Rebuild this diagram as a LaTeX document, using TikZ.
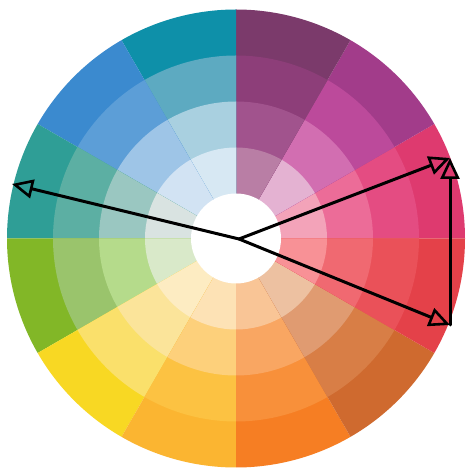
\documentclass[tikz,border=0pt]{standalone}
\usetikzlibrary{arrows.meta}
% sector colours: 1 = outer ... 4 = inner
\definecolor{A1}{HTML}{DE3A6F}\definecolor{A2}{HTML}{E44C82}\definecolor{A3}{HTML}{EC6C98}\definecolor{A4}{HTML}{F3A3B9}
\definecolor{B1}{HTML}{A23C8A}\definecolor{B2}{HTML}{BC4A9B}\definecolor{B3}{HTML}{D26EB1}\definecolor{B4}{HTML}{E4B2D2}
\definecolor{C1}{HTML}{7B3A6B}\definecolor{C2}{HTML}{8D3E79}\definecolor{C3}{HTML}{A1538D}\definecolor{C4}{HTML}{B97EA5}
\definecolor{D1}{HTML}{0E90A9}\definecolor{D2}{HTML}{5DAAC1}\definecolor{D3}{HTML}{A9D0E0}\definecolor{D4}{HTML}{D7E8F3}
\definecolor{E1}{HTML}{3B8ACF}\definecolor{E2}{HTML}{5C9ED7}\definecolor{E3}{HTML}{9EC5E7}\definecolor{E4}{HTML}{D2E3F3}
\definecolor{F1}{HTML}{2F9E96}\definecolor{F2}{HTML}{5CAFA3}\definecolor{F3}{HTML}{9AC7C1}\definecolor{F4}{HTML}{D9E3E1}
\definecolor{G1}{HTML}{82B727}\definecolor{G2}{HTML}{9AC46C}\definecolor{G3}{HTML}{B5DB8B}\definecolor{G4}{HTML}{D9E9C9}
\definecolor{H1}{HTML}{F8D823}\definecolor{H2}{HTML}{FAE06B}\definecolor{H3}{HTML}{FBE49A}\definecolor{H4}{HTML}{FDECC2}
\definecolor{I1}{HTML}{FBB531}\definecolor{I2}{HTML}{FCC242}\definecolor{I3}{HTML}{FDD07B}\definecolor{I4}{HTML}{FDE2B5}
\definecolor{J1}{HTML}{F67E23}\definecolor{J2}{HTML}{F8903A}\definecolor{J3}{HTML}{F9A662}\definecolor{J4}{HTML}{F9C596}
\definecolor{K1}{HTML}{CF6A2F}\definecolor{K2}{HTML}{D87E46}\definecolor{K3}{HTML}{E09B71}\definecolor{K4}{HTML}{EDC1A1}
\definecolor{L1}{HTML}{E44149}\definecolor{L2}{HTML}{EA5159}\definecolor{L3}{HTML}{F06971}\definecolor{L4}{HTML}{F89196}
\tikzset{
  arr/.style={line width=3pt, line cap=round, line join=round,
    -{Triangle[open,length=21pt,width=19pt,line width=2.6pt]}}
}
\begin{document}
\begin{tikzpicture}[x=1pt,y=1pt]
\useasboundingbox[fill=white] (0,0) rectangle (474,474);
\coordinate (C) at (236,235.5);
\foreach \a/\c in {0/A,30/B,60/C,90/D,120/E,150/F,180/G,210/H,240/I,270/J,300/K,330/L}{
  \foreach \r/\k in {229/1,183/2,137/3,91/4}{
    \fill[\c\k] (C) -- ++(\a:\r) arc[start angle=\a,end angle=\a+30,radius=\r] -- cycle;
  }
}
\fill[white] (C) circle[radius=45];
% arrows
\coordinate (V) at (239,235);
\coordinate (TL) at (12,290);
\coordinate (TU) at (450,316);
\coordinate (TD) at (450,149);
\draw[arr] (V) -- (TL);
\draw[arr] (V) -- (TU);
\draw[arr] (V) -- (TD);
\draw[arr] (TD) -- (TU);
\end{tikzpicture}
\end{document}
